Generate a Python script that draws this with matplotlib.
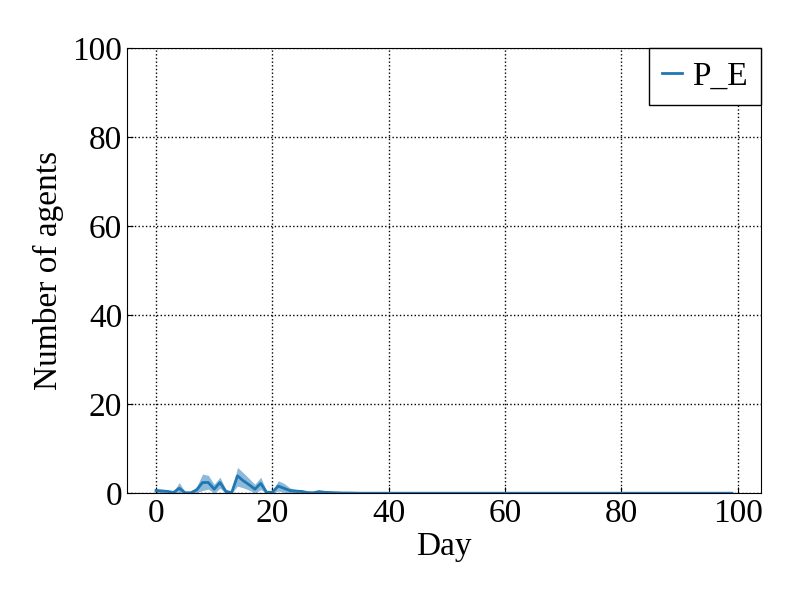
import numpy as np
import matplotlib
matplotlib.use("Agg")
import matplotlib.pyplot as plt

days = list(range(100))
mean_head = [0.6, 0.5, 0.4, 0.15, 1.1, 0.1, 0.1, 0.75, 2.4, 2.4,
             0.9, 2.4, 0.4, 0.1, 3.9, 2.8, 1.9, 0.9, 2.2, 0.2,
             0.2, 1.6, 1.1, 0.6, 0.45, 0.4, 0.15, 0.1, 0.35, 0.2,
             0.15, 0.1, 0.05, 0.05, 0.03]
upper_head = [1.0, 0.9, 0.7, 0.4, 2.4, 0.3, 0.3, 1.5, 4.3, 4.0,
              2.0, 3.6, 0.9, 0.3, 5.8, 4.6, 3.3, 2.0, 3.6, 0.5,
              0.5, 2.8, 2.2, 1.2, 0.9, 0.8, 0.4, 0.3, 0.7, 0.5,
              0.4, 0.3, 0.15, 0.15, 0.1]
lower_head = [0.2, 0.1, 0.1, 0.0, 0.0, 0.0, 0.0, 0.1, 0.6, 0.9,
              0.0, 1.1, 0.0, 0.0, 1.6, 1.2, 0.7, 0.0, 0.8, 0.0,
              0.0, 0.5, 0.2, 0.1, 0.05, 0.05, 0.0, 0.0, 0.05, 0.0,
              0.0, 0.0, 0.0, 0.0, 0.0]
n_tail = len(days) - len(mean_head)
mean = np.array(mean_head + [0.0] * n_tail)
upper = np.array(upper_head + [0.0] * n_tail)
lower = np.array(lower_head + [0.0] * n_tail)

plt.rcParams['font.family'] = ['Liberation Serif', 'DejaVu Serif']
plt.rcParams['font.size'] = 24

fig = plt.figure(figsize=(8, 6), dpi=100)
ax = fig.add_axes([0.159, 0.178, 0.792, 0.742])
color = '#1f77b4'
ax.fill_between(days, lower, upper, color=color, alpha=0.5, linewidth=0)
ax.plot(days, mean, color=color, linewidth=2, label='P_E')
ax.set_ylim(0, 100)
ax.set_xticks([0, 20, 40, 60, 80, 100])
ax.set_yticks([0, 20, 40, 60, 80, 100])
ax.grid(True, color='black', linestyle=':', linewidth=1)
ax.tick_params(direction='in', length=4, labelsize=24)
ax.set_xlabel('Day', fontsize=24, labelpad=2)
ax.set_ylabel('Number of agents', fontsize=24, labelpad=6)
for s in ax.spines.values():
    s.set_color('black')
leg = ax.legend(loc='upper right', fancybox=False, edgecolor='black',
                framealpha=1, handlelength=0.6, handletextpad=0.3,
                borderaxespad=0)
leg.get_frame().set_linewidth(1)
fig.savefig('out.png', dpi=100)
